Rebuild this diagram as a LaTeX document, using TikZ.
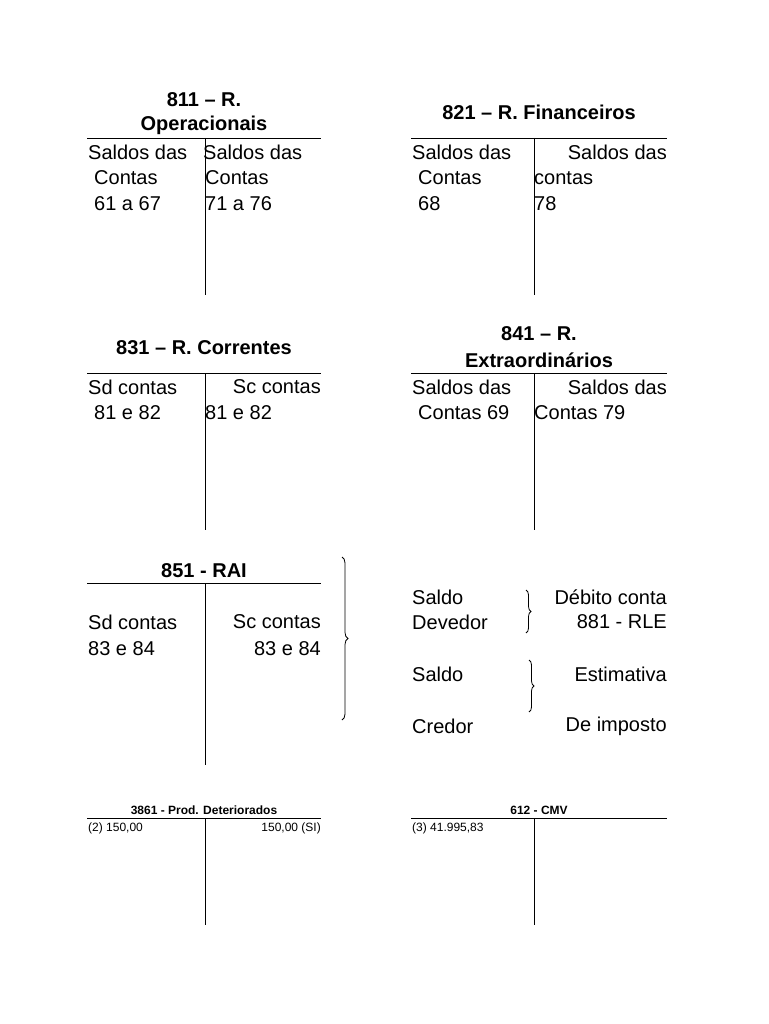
\documentclass[tikz,border=0pt]{standalone}
\usepackage{fontspec}
\setmainfont{Liberation Sans}
\usetikzlibrary{decorations.pathreplacing}
\begin{document}
\begin{tikzpicture}[x=1pt,y=-1pt,
  txt/.style={inner sep=0pt,font=\fontsize{20}{22}\selectfont},
  ttl/.style={inner sep=0pt,font=\fontsize{20}{22}\selectfont\bfseries},
  sm/.style={inner sep=0pt,font=\fontsize{12}{13}\selectfont},
  smb/.style={inner sep=0pt,font=\fontsize{12}{13}\selectfont\bfseries},
  tline/.style={line width=0.8pt},
  brc/.style={decorate,decoration={brace,amplitude=6pt},line width=0.8pt}]
\useasboundingbox (0,0) rectangle (768,1024);
% 811
\node[ttl] (t1a) at (204,100) {811 -- R.};
\node[ttl] (t1b) at (204,125) {Operacionais};
\draw[tline] (87,138) coordinate(h1l) -- (321,138) coordinate(h1r);
\draw[tline] (205,138) coordinate(v1t) -- (205,295) coordinate(v1b);
\node[txt,anchor=west] (l1a) at (88,152) {Saldos das};
\node[txt,anchor=west] (l1b) at (94,178) {Contas};
\node[txt,anchor=west] (l1c) at (94,204) {61 a 67};
\node[txt,anchor=west] (r1a) at (203,152) {Saldos das};
\node[txt,anchor=west] (r1b) at (205,178) {Contas};
\node[txt,anchor=west] (r1c) at (205,204) {71 a 76};
% 821
\node[ttl] (t2) at (539,112) {821 -- R. Financeiros};
\draw[tline] (411,138) -- (667,138);
\draw[tline] (534,138) -- (534,295);
\node[txt,anchor=west] (l2a) at (412,152) {Saldos das};
\node[txt,anchor=west] (l2b) at (418,178) {Contas};
\node[txt,anchor=west] (l2c) at (418,204) {68};
\node[txt,anchor=east] (r2a) at (667,152) {Saldos das};
\node[txt,anchor=west] (r2b) at (534,178) {contas};
\node[txt,anchor=west] (r2c) at (534,204) {78};
% 831
\node[ttl] (t3) at (204,348) {831 -- R. Correntes};
\draw[tline] (87,373) -- (321,373);
\draw[tline] (205,373) -- (205,530);
\node[txt,anchor=west] (l3a) at (88,387) {Sd contas};
\node[txt,anchor=west] (l3b) at (94,413) {81 e 82};
\node[txt,anchor=east] (r3a) at (321,387) {Sc contas};
\node[txt,anchor=west] (r3b) at (205,413) {81 e 82};
% 841
\node[ttl] (t4a) at (539,334) {841 -- R.};
\node[ttl] (t4b) at (539,360) {Extraordinários};
\draw[tline] (411,373) -- (667,373);
\draw[tline] (534,373) -- (534,530);
\node[txt,anchor=west] (l4a) at (412,387) {Saldos das};
\node[txt,anchor=west] (l4b) at (418,413) {Contas 69};
\node[txt,anchor=east] (r4a) at (667,387) {Saldos das};
\node[txt,anchor=west] (r4b) at (534,413) {Contas 79};
% 851
\node[ttl] (t5) at (204,571) {851 - RAI};
\draw[tline] (87,583) -- (321,583);
\draw[tline] (205,583) -- (205,765);
\node[txt,anchor=west] (l5a) at (88,622) {Sd contas};
\node[txt,anchor=west] (l5b) at (88,649) {83 e 84};
\node[txt,anchor=east] (r5a) at (321,622) {Sc contas};
\node[txt,anchor=east] (r5b) at (321,649) {83 e 84};
\draw[brc] (342,557) -- (342,720);
% right notes
\node[txt,anchor=west] (s1) at (412,597) {Saldo};
\node[txt,anchor=west] (s2) at (412,622) {Devedor};
\node[txt,anchor=east] (d1) at (667,597) {Débito conta};
\node[txt,anchor=east] (d2) at (667,622) {881 - RLE};
\draw[brc,decoration={brace,amplitude=5pt}] (526,590) -- (526,633);
\node[txt,anchor=west] (s3) at (412,674) {Saldo};
\node[txt,anchor=west] (s4) at (412,726) {Credor};
\node[txt,anchor=east] (e1) at (667,674) {Estimativa};
\node[txt,anchor=east] (e2) at (667,726) {De imposto};
\draw[brc,decoration={brace,amplitude=5pt}] (529,660) -- (529,712);
% 3861
\node[smb] (t6) at (204,810) {3861 - Prod. Deteriorados};
\draw[tline] (87,818) -- (321,818);
\draw[tline] (205,818) -- (205,925);
\node[sm,anchor=west] (l6) at (88,828) {(2) 150,00};
\node[sm,anchor=east] (r6) at (321,828) {150,00 (SI)};
% 612
\node[smb] (t7) at (539,810) {612 - CMV};
\draw[tline] (411,818) -- (667,818);
\draw[tline] (534,818) -- (534,925);
\node[sm,anchor=west] (l7) at (412,828) {(3) 41.995,83};
\end{tikzpicture}
\end{document}
